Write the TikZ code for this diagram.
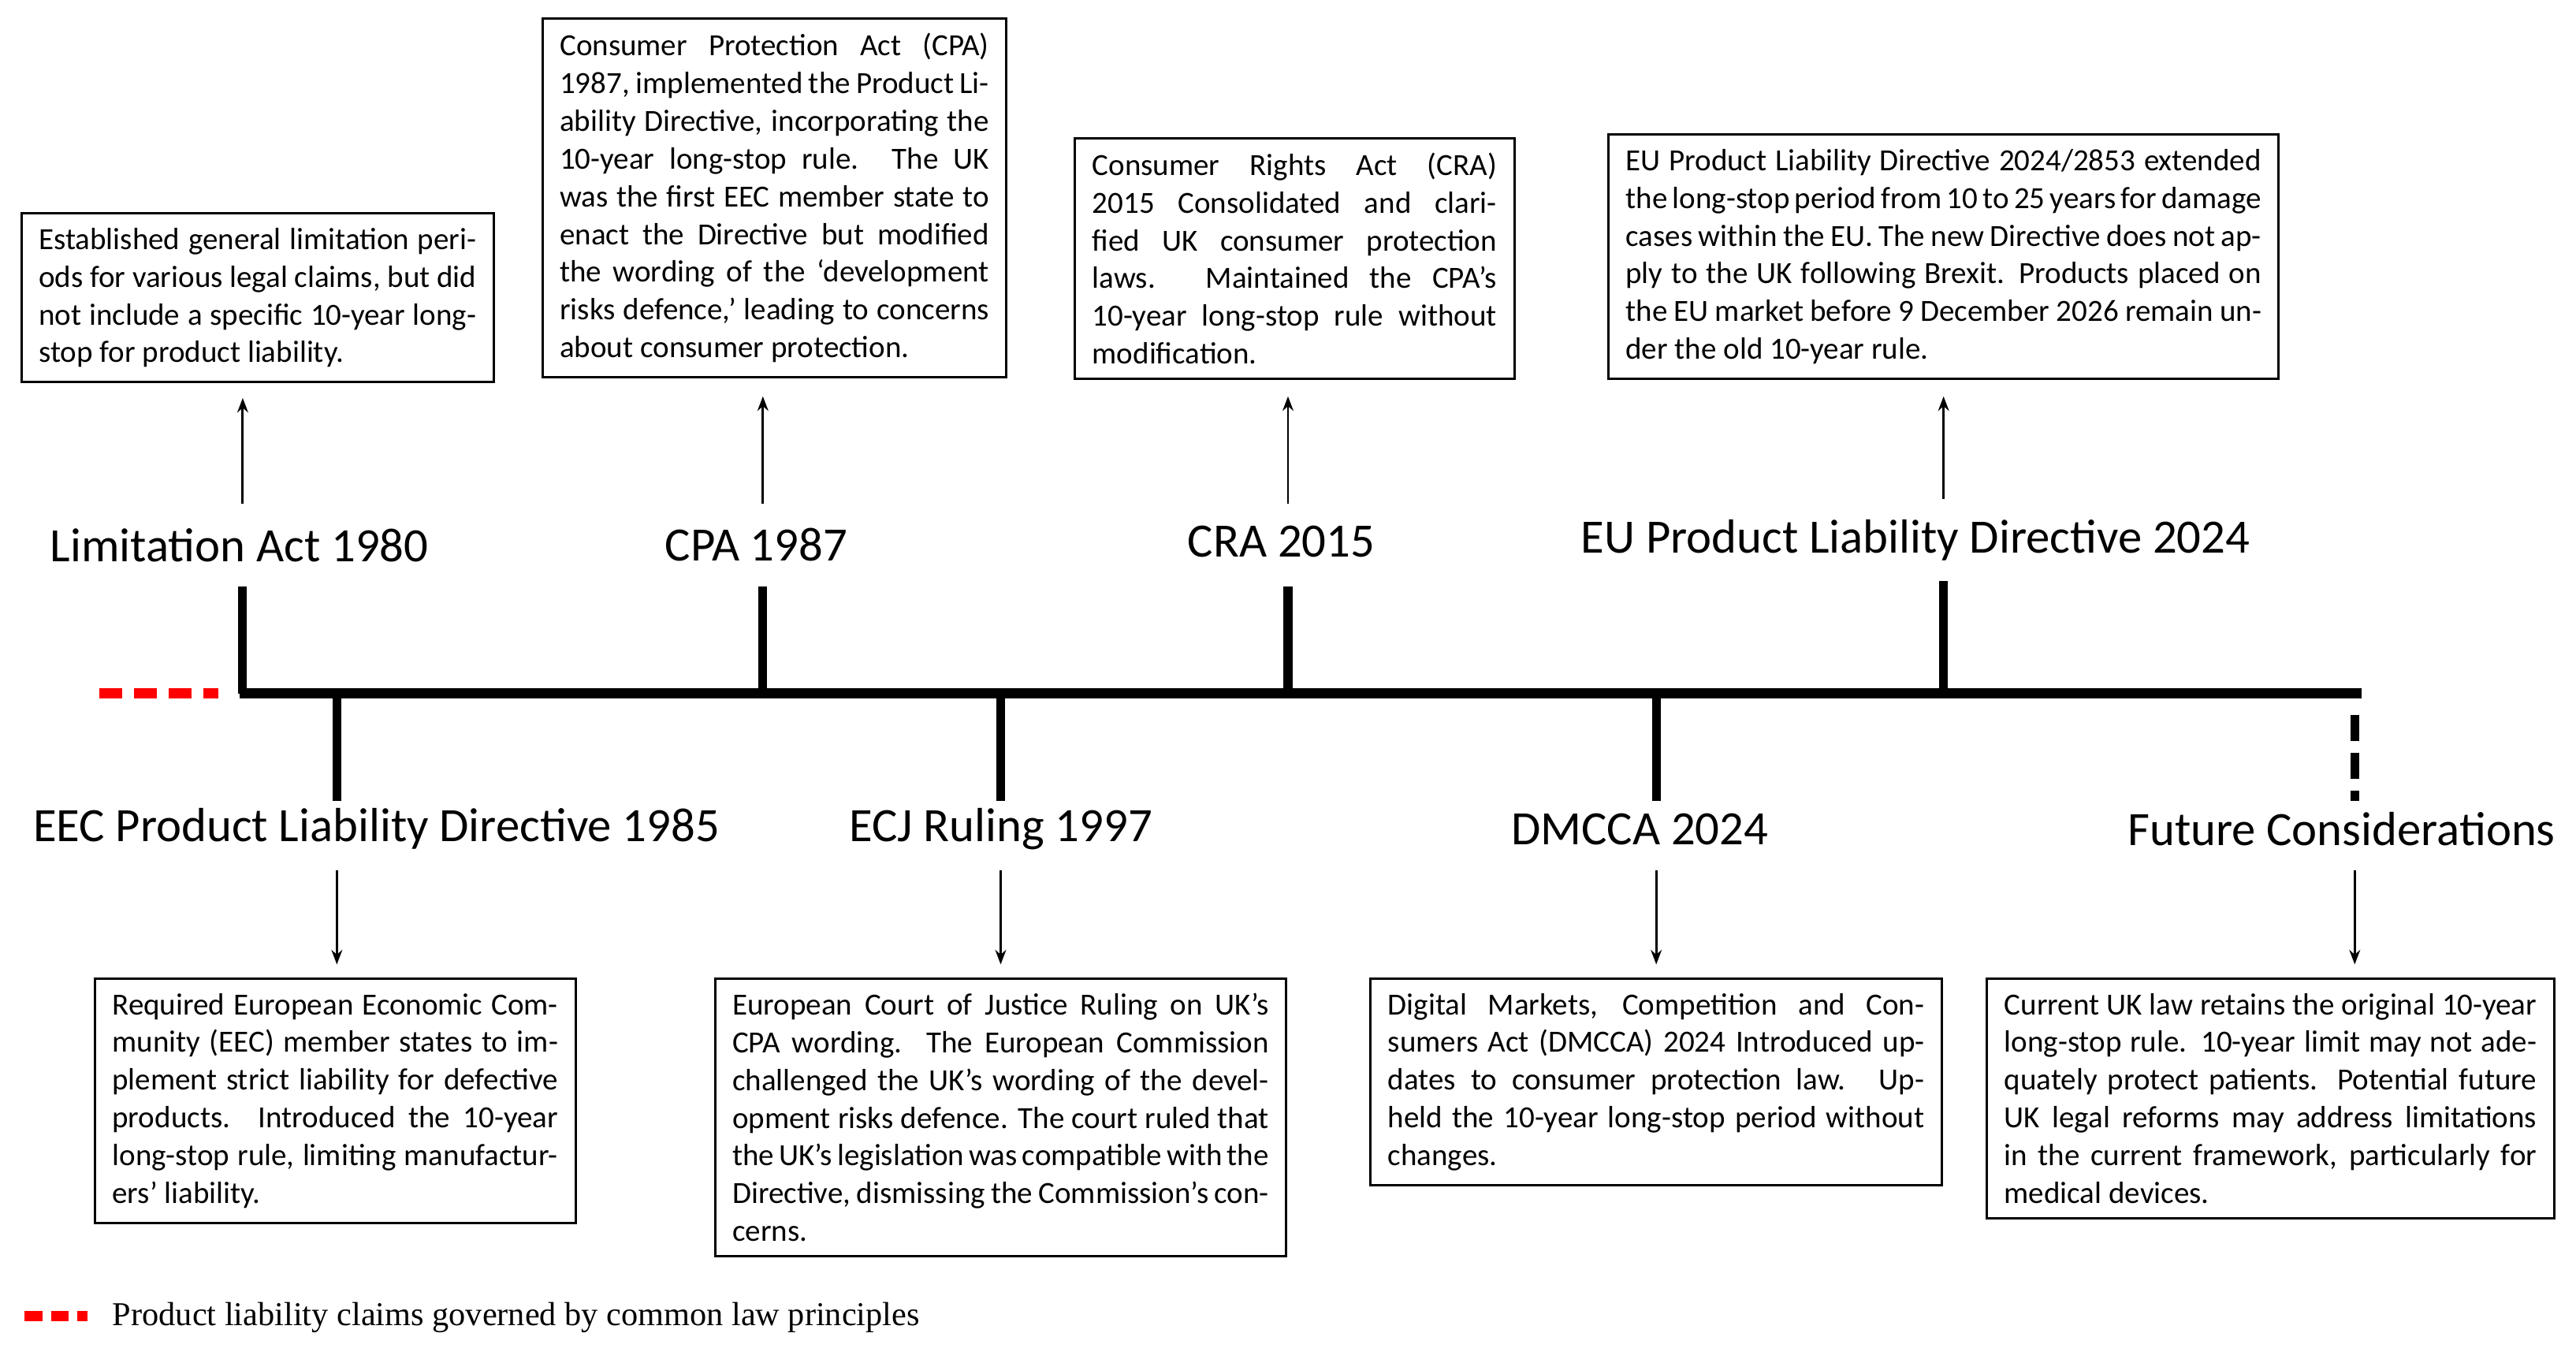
\documentclass[tikz,border=0pt]{standalone}
\usepackage{fontspec}
\setmainfont{Carlito}
\newfontfamily\legendfont{Liberation Serif}
\usetikzlibrary{arrows.meta}

\tikzset{
  infobox/.style={draw, line width=0.8pt, inner xsep=6pt, inner ysep=5pt,
    align=justify, font=\fontsize{10.6}{13}\selectfont},
  milestone/.style={font=\fontsize{16.5}{19}\selectfont},
  tick/.style={line width=3pt},
  pointer/.style={-{Stealth[length=5pt]}, line width=0.8pt},
}

\begin{document}
\begin{tikzpicture}[x=0.02cm, y=-0.02cm]
    \useasboundingbox (0,0) rectangle (1560,816);

    % time axis
    \coordinate (start) at (145,420);
    \coordinate (stop) at (1430,420);
    \draw[line width=3.5pt] (start) -- (stop);
    \draw[red, line width=3.5pt, dash pattern=on 8pt off 4pt] (60,420) -- (132,420);

    % upper milestones
    \coordinate (t1) at (147,420);
    \coordinate (t2) at (462,420);
    \coordinate (t3) at (780,420);
    \coordinate (t4) at (1177,420);
    \draw[tick] (147,420) -- (147,355);
    \draw[tick] (462,420) -- (462,355);
    \draw[tick] (780,420) -- (780,355);
    \draw[tick] (1177,420) -- (1177,352);

    \node[milestone] (lim) at (145,330) {Limitation Act 1980};
    \node[milestone] (cpa) at (458,330) {CPA 1987};
    \node[milestone] (cra) at (776,328) {CRA 2015};
    \node[milestone] (eupld) at (1160,327) {EU Product Liability Directive 2024};

    \node[infobox, text width=5.3cm, anchor=south] (limBox) at (156,232)
      {Established general limitation periods for various legal claims,
       but did not include a specific 10-year long-stop for product liability.};
    \node[infobox, text width=5.2cm, anchor=south] (cpaBox) at (469,229)
      {Consumer Protection Act (CPA) 1987, implemented the Product Liability
       Directive, incorporating the 10-year long-stop rule. The UK was the first
       EEC member state to enact the Directive but modified the wording of the
       `development risks defence,' leading to concerns about consumer protection.};
    \node[infobox, text width=4.9cm, anchor=south] (craBox) at (784,230)
      {Consumer Rights Act (CRA) 2015 Consolidated and clarified UK consumer
       protection laws. Maintained the CPA's 10-year long-stop rule without
       modification.};
    \node[infobox, text width=7.7cm, anchor=south] (eupldBox) at (1177,230)
      {EU Product Liability Directive 2024/2853 extended the long-stop period
       from 10 to 25 years for damage cases within the EU. The new Directive does
       not apply to the UK following Brexit. Products placed on the EU market
       before 9 December 2026 remain under the old 10-year rule.};

    \draw[pointer] (147,305) -- (147,241);
    \draw[pointer] (462,305) -- (462,240);
    \draw[pointer] (780,305) -- (780,240);
    \draw[pointer] (1177,302) -- (1177,240);

    % lower milestones
    \draw[tick] (204,420) -- (204,485);
    \draw[tick] (606,420) -- (606,485);
    \draw[tick] (1003,420) -- (1003,485);
    \draw[tick, dash pattern=on 9pt off 4pt] (1426,433) -- (1426,485);

    \node[milestone] (eec) at (228,502) {EEC Product Liability Directive 1985};
    \node[milestone] (ecj) at (606,502) {ECJ Ruling 1997};
    \node[milestone] (dmcca) at (993,502) {DMCCA 2024};
    \node[milestone] (future) at (1418,502) {Future Considerations};

    \node[infobox, text width=5.4cm, anchor=north] (eecBox) at (203,592)
      {Required European Economic Community (EEC) member states to implement
       strict liability for defective products. Introduced the 10-year long-stop
       rule, limiting manufacturers' liability.};
    \node[infobox, text width=6.5cm, anchor=north] (ecjBox) at (606,592)
      {European Court of Justice Ruling on UK's CPA wording. The European
       Commission challenged the UK's wording of the development risks defence.
       The court ruled that the UK's legislation was compatible with the
       Directive, dismissing the Commission's concerns.};
    \node[infobox, text width=6.5cm, anchor=north] (dmccaBox) at (1003,592)
      {Digital Markets, Competition and Consumers Act (DMCCA) 2024 Introduced
       updates to consumer protection law. Upheld the 10-year long-stop period
       without changes.};
    \node[infobox, text width=6.45cm, anchor=north] (futureBox) at (1375,592)
      {Current UK law retains the original 10-year long-stop rule. 10-year limit
       may not adequately protect patients. Potential future UK legal reforms may
       address limitations in the current framework, particularly for medical
       devices.};

    \draw[pointer] (204,527) -- (204,584);
    \draw[pointer] (606,527) -- (606,584);
    \draw[pointer] (1003,527) -- (1003,584);
    \draw[pointer] (1426,527) -- (1426,584);

    % legend
    \draw[red, line width=3.5pt, dash pattern=on 6pt off 3pt] (15,797) -- (53,797);
    \node[anchor=west, font=\legendfont\fontsize{11.5}{14}\selectfont] (legend) at (62,798)
      {Product liability claims governed by common law principles};
\end{tikzpicture}
\end{document}
